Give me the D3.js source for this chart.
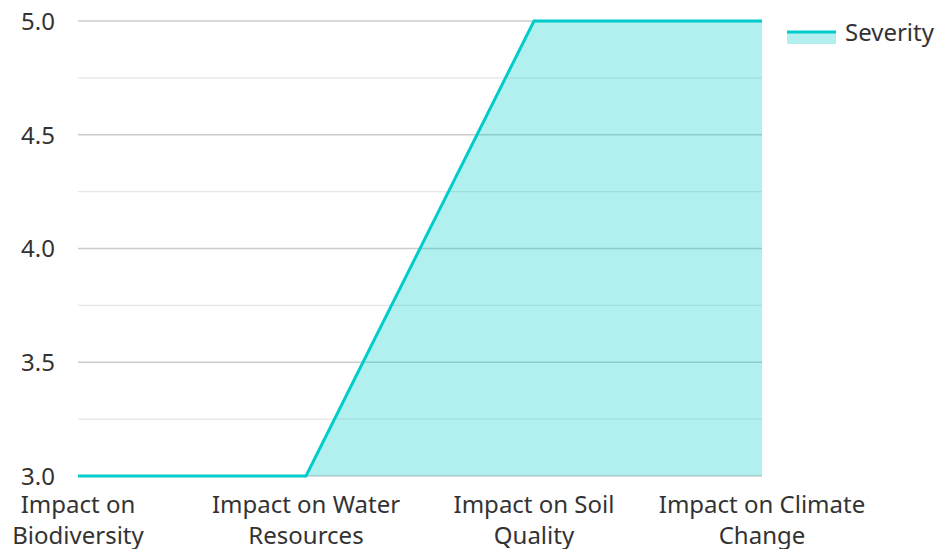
<!DOCTYPE html>
<html>
<head>
<meta charset="utf-8">
<script src="https://cdn.jsdelivr.net/npm/d3@7"></script>
<style>
  html, body { margin: 0; padding: 0; background: #fff; }
  svg { display: block; font-family: "Noto Sans", "Open Sans", sans-serif; }
</style>
</head>
<body>
<svg id="chart" width="936" height="549"></svg>
<script>
// Environmental impact severity by category
const categories = [
  ["Impact on", "Biodiversity"],
  ["Impact on Water", "Resources"],
  ["Impact on Soil", "Quality"],
  ["Impact on Climate", "Change"]
];
const severity = [3, 3, 5, 5];
const seriesName = "Severity";
const yTicks = [3.0, 3.5, 4.0, 4.5, 5.0];
const yMinorTicks = [3.25, 3.75, 4.25, 4.75];

const lineColor = "#00cccc";
const textColor = "#333333";
const fontSize = 24;

const svg = d3.select("#chart");
const margin = { left: 78, right: 174, top: 21, bottom: 73 };
const W = 936, H = 549;

const x = d3.scalePoint()
  .domain(d3.range(categories.length))
  .range([margin.left, W - margin.right]);
const y = d3.scaleLinear()
  .domain([3, 5])
  .range([H - margin.bottom, margin.top]);

// gridlines
const grid = svg.append("g");
grid.selectAll("line.minor").data(yMinorTicks).join("line")
  .attr("class", "minor")
  .attr("x1", margin.left).attr("x2", W - margin.right)
  .attr("y1", d => y(d)).attr("y2", d => y(d))
  .attr("stroke", "#e6e6e6").attr("stroke-width", 1.2);
grid.selectAll("line.major").data(yTicks).join("line")
  .attr("class", "major")
  .attr("x1", margin.left).attr("x2", W - margin.right)
  .attr("y1", d => y(d)).attr("y2", d => y(d))
  .attr("stroke", "#cccccc").attr("stroke-width", 1.5);

// y axis labels
const yAxis = d3.axisLeft(y).tickValues(yTicks).tickFormat(d3.format(".1f")).tickSize(0).tickPadding(0);
const gy = svg.append("g").attr("transform", `translate(${margin.left - 23},0)`).call(yAxis);
gy.select(".domain").remove();
gy.selectAll("text").attr("fill", textColor).attr("font-size", fontSize)
  .attr("font-family", "'Noto Sans', sans-serif").attr("dy", "0.35em");

// x axis labels (two lines)
const gx = svg.append("g");
categories.forEach((lines, i) => {
  const t = gx.append("text")
    .attr("x", x(i)).attr("y", H - margin.bottom + 37)
    .attr("text-anchor", "middle")
    .attr("fill", textColor).attr("font-size", fontSize);
  lines.forEach((ln, j) => {
    t.append("tspan").attr("x", x(i)).attr("dy", j === 0 ? 0 : 31).text(ln);
  });
});

// area + line
const area = d3.area()
  .x((d, i) => x(i))
  .y0(y(3))
  .y1(d => y(d));
const line = d3.line()
  .x((d, i) => x(i))
  .y(d => y(d));

svg.append("path").datum(severity)
  .attr("d", area)
  .attr("fill", lineColor).attr("fill-opacity", 0.3);
svg.append("path").datum(severity)
  .attr("d", line)
  .attr("fill", "none").attr("stroke", lineColor)
  .attr("stroke-width", 3).attr("stroke-linejoin", "miter");

// legend
const lg = svg.append("g").attr("transform", "translate(787,32)");
lg.append("rect").attr("x", 0).attr("y", 0).attr("width", 49).attr("height", 12)
  .attr("fill", lineColor).attr("fill-opacity", 0.3);
lg.append("line").attr("x1", 0).attr("x2", 49).attr("y1", 0).attr("y2", 0)
  .attr("stroke", lineColor).attr("stroke-width", 3);
lg.append("text").attr("x", 58).attr("y", 9)
  .attr("fill", textColor).attr("font-size", fontSize).text(seriesName);
</script>
</body>
</html>
